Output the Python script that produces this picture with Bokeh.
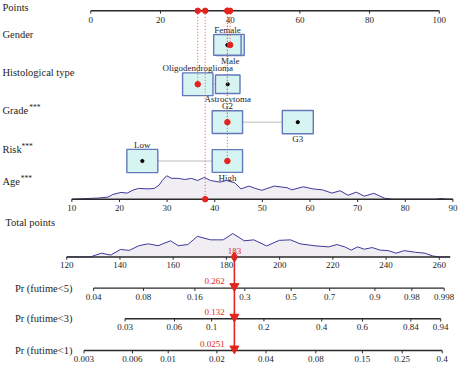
import math
from bokeh.plotting import figure
from bokeh.models import Range1d
from bokeh.core.properties import value
from bokeh.embed import file_html
from bokeh.resources import INLINE

# ---------------- data ----------------
points_ticks = [0, 20, 40, 60, 80, 100]

gender_levels = ["Female", "Male"]
gender_points = [39.2, 40.0]
gender_freq = [0.40, 0.42]

hist_levels = ["Oligodendroglioma", "Astrocytoma"]
hist_points = [30.7, 39.3]
hist_freq = [0.49, 0.32]

grade_levels = ["G2", "G3"]
grade_points = [39.2, 59.4]
grade_freq = [0.49, 0.51]

risk_levels = ["Low", "High"]
risk_points = [14.8, 39.2]
risk_freq = [0.51, 0.49]

age_ticks = [10, 20, 30, 40, 50, 60, 70, 80, 90]
age_range_points = [-5.43, 103.9]          # points at age 10 and age 90
age_dens_x = [10.0, 12.2, 15.6, 17.6, 18.6, 20.3, 21.6, 23.0, 24.0, 26.0, 27.3, 28.3,
              29.0, 29.9, 31.0, 32.4, 33.7, 35.1, 36.4, 37.8, 39.1, 41.1, 42.5, 44.2,
              45.5, 47.2, 48.5, 49.9, 52.5, 55.2, 56.2, 58.6, 60.6, 62.6, 64.6, 66.3,
              68.0, 69.7, 71.4, 73.4, 75.7, 77.4, 86.2, 87.5, 88.8, 90.0]
age_dens_y = [0.0, 0.02, 0.05, 0.09, 0.20, 0.29, 0.26, 0.40, 0.46, 0.44, 0.46, 0.60,
              0.80, 1.00, 0.89, 0.89, 0.84, 0.89, 0.80, 0.93, 0.80, 0.73, 0.80, 0.70,
              0.44, 0.56, 0.46, 0.38, 0.56, 0.49, 0.40, 0.53, 0.44, 0.40, 0.26, 0.36,
              0.17, 0.30, 0.13, 0.25, 0.04, 0.0, 0.0, 0.03, 0.0, 0.0]

total_ticks = [120, 140, 160, 180, 200, 220, 240, 260]
total_range_points = [-6.89, 100.0]        # points-scale position of 120 and 260
total_axis_end = 264
total_dens_x = [120.0, 128.9, 133.0, 136.6, 140.2, 143.5, 147.1, 150.7, 154.3, 159.0,
                161.9, 165.5, 169.1, 174.1, 177.0, 178.8, 182.4, 186.7, 190.3, 195.1,
                199.9, 204.1, 207.7, 213.7, 218.5, 221.5, 224.5, 226.9, 229.3, 231.8,
                234.8, 237.8, 240.8, 243.8, 246.8, 251.0, 254.6, 257.6, 260.0, 264.2]
total_dens_y = [0.0, 0.0, 0.16, 0.08, 0.32, 0.28, 0.48, 0.56, 0.48, 0.69,
                0.48, 0.53, 0.88, 0.73, 0.73, 0.73, 1.00, 0.69, 0.73, 0.47,
                0.71, 0.73, 0.56, 0.47, 0.43, 0.53, 0.43, 0.29, 0.43, 0.33,
                0.40, 0.29, 0.27, 0.16, 0.27, 0.20, 0.16, 0.04, 0.0, 0.0]

pr_labels = ["Pr (futime<5)", "Pr (futime<3)", "Pr (futime<1)"]
pr_ticks = [
    [0.04, 0.08, 0.16, 0.3, 0.5, 0.7, 0.9, 0.98, 0.998],
    [0.03, 0.06, 0.1, 0.2, 0.4, 0.6, 0.84, 0.94],
    [0.003, 0.006, 0.01, 0.02, 0.04, 0.08, 0.15, 0.25, 0.4],
]
# Cox model: log cumulative hazard = lh0 + beta * (total - 120)
pr_lh0 = [-3.584, -4.327, -6.055]
pr_beta = 0.03815

patient_choice = {"Gender": "Male", "Histological type": "Oligodendroglioma",
                  "Grade": "G2", "Risk": "High"}
patient_age = 38
patient_total = 183
patient_total_label = "183"
patient_pr_labels = ["0.262", "0.132", "0.0251"]

# ---------------- layout / style ----------------
FONT = "Liberation Serif"
RED = "#E0261F"
DOT_RED = "#E3231D"
AXIS_COL = "#2a2a2a"
BOX_FILL = "#D6F4F1"
BOX_LINE = "#6478BC"
DENS_FILL = "#F1EEF3"
DENS_LINE = "#3C3A9C"
TXT = "#1e1e1e"

PT0_PX = 92.0          # reference pixel of 0 points
PX_PER_PT = 3.63
BOX_AREA = 1570.0
BOX_ASPECT = 1.3
DENS_H = 25.0


def X(px):
    return (px - PT0_PX) / PX_PER_PT


def age_to_pts(a):
    return age_range_points[0] + (a - 10) * (age_range_points[1] - age_range_points[0]) / 80.0


def tot_to_pts(t):
    return total_range_points[0] + (t - 120) * (total_range_points[1] - total_range_points[0]) / 140.0


def prob_to_total(pv, k):
    return 120 + (math.log(-math.log(1 - pv)) - pr_lh0[k]) / pr_beta


def fmt(v):
    s = repr(v)
    return s[:-2] if s.endswith(".0") else s


p = figure(width=458, height=365, x_range=Range1d(X(-2), X(475)), y_range=Range1d(386, -4),
           output_backend="svg", toolbar_location=None, min_border=0,
           background_fill_color="white", border_fill_color="white")
p.axis.visible = False
p.grid.visible = False
p.outline_line_color = None


def text(xs, ys, labels, size, align="left", color=TXT, baseline="middle"):
    p.text(x=xs, y=ys, text=labels, text_font=value(FONT), text_font_size=size,
           text_align=align, text_baseline=baseline, text_color=color)


def axis(y, xs, labels, x0, x1, lab_dy=9.0):
    p.segment(x0=[x0], y0=[y], x1=[x1], y1=[y], line_color=AXIS_COL, line_width=1.4)
    p.segment(x0=xs, y0=[y] * len(xs), x1=xs, y1=[y + 3] * len(xs),
              line_color=AXIS_COL, line_width=1)
    text(xs, [y + lab_dy] * len(xs), labels, "9px", align="center")


# row labels
Y_POINTS = 7.0
rows = [("Points", 3.5, 0), ("Gender", 32.5, 0), ("Histological type", 73, 0),
        ("Grade", 113, 0), ("Risk", 155, 0), ("Age", 189, 0), ("Total points", 233, 3)]
for lab, yy, xx in rows:
    text([X(xx)], [yy], [lab], "10.5px")
stars = [(28, 110), (20, 152), (19, 186)]
for sx, sy in stars:
    text([X(sx)], [sy], ["***"], "7.5px")

# Points axis
axis(Y_POINTS, points_ticks, [fmt(t) for t in points_ticks], 0, 100, lab_dy=9.5)

# categorical rows
cat_rows = [
    ("Gender", 43.5, gender_levels, gender_points, gender_freq),
    ("Histological type", 85.5, hist_levels, hist_points, hist_freq),
    ("Grade", 126.0, grade_levels, grade_points, grade_freq),
    ("Risk", 167.5, risk_levels, risk_points, risk_freq),
]
chosen_pts = []
for name, yb, levels, pts, freq in cat_rows:
    p.segment(x0=[min(pts)], y0=[yb], x1=[max(pts)], y1=[yb], line_color="#BDBDBD", line_width=1)
    order = list(range(len(levels)))[::-1]
    for i in order:
        w = math.sqrt(BOX_AREA * freq[i] * BOX_ASPECT)
        h = w / BOX_ASPECT
        p.rect(x=[pts[i]], y=[yb], width=[w / PX_PER_PT], height=[h],
               fill_color=BOX_FILL, line_color=BOX_LINE, line_width=1.4)
        if i == 0:
            text([pts[i]], [yb - h / 2 - 5.0], [levels[i]], "9px", align="center")
        else:
            text([pts[i]], [yb + h / 2 + 5.5], [levels[i]], "9px", align="center")
    for i in range(len(levels)):
        if levels[i] == patient_choice[name]:
            chosen_pts.append((pts[i], yb))
        else:
            p.scatter(x=[pts[i]], y=[yb], size=3.2, color="black")

# Age row
Y_AGE = 208.3
ax = [age_to_pts(a) for a in age_dens_x]
p.varea(x=ax, y1=[Y_AGE] * len(ax), y2=[Y_AGE - d * DENS_H for d in age_dens_y], fill_color=DENS_FILL)
p.line(x=ax, y=[Y_AGE - d * DENS_H for d in age_dens_y], line_color=DENS_LINE, line_width=1)
axis(Y_AGE, [age_to_pts(a) for a in age_ticks], [fmt(a) for a in age_ticks],
     age_to_pts(10), age_to_pts(90), lab_dy=9)
chosen_pts.append((age_to_pts(patient_age), Y_AGE))

# red dotted guide lines and dots
for cx, cy in chosen_pts:
    p.segment(x0=[cx], y0=[Y_POINTS], x1=[cx], y1=[cy], line_color="#E8573F",
              line_width=1, line_dash="1 2")
for cx, cy in chosen_pts:
    p.scatter(x=[cx], y=[cy], size=5.5, color=DOT_RED)
    p.scatter(x=[cx], y=[Y_POINTS], size=5.5, color=DOT_RED)

# Total points row
Y_TOT = 270.0
tx = [tot_to_pts(t) for t in total_dens_x]
p.varea(x=tx, y1=[Y_TOT] * len(tx), y2=[Y_TOT - d * DENS_H for d in total_dens_y], fill_color=DENS_FILL)
p.line(x=tx, y=[Y_TOT - d * DENS_H for d in total_dens_y], line_color=DENS_LINE, line_width=1)
axis(Y_TOT, [tot_to_pts(t) for t in total_ticks], [fmt(t) for t in total_ticks],
     tot_to_pts(120), tot_to_pts(total_axis_end), lab_dy=9)

# Probability rows
Y_PR = [303.3, 336.0, 370.0]
for k in range(3):
    xs = [tot_to_pts(prob_to_total(v, k)) for v in pr_ticks[k]]
    axis(Y_PR[k], xs, [fmt(v) for v in pr_ticks[k]], xs[0], xs[-1], lab_dy=9)
    text([X(13)], [Y_PR[k]], [pr_labels[k]], "10.5px")

# patient total marker and projection
mx = tot_to_pts(patient_total)
p.segment(x0=[mx], y0=[Y_TOT], x1=[mx], y1=[Y_PR[-1] - 2], line_color=RED, line_width=1.6)
p.scatter(x=[mx], y=[Y_TOT], marker="diamond", size=10, color=RED)
text([mx], [Y_TOT - 6], [patient_total_label], "9px", align="center", color=RED)
for k in range(3):
    p.scatter(x=[mx], y=[Y_PR[k] - 2], marker="inverted_triangle", size=9, color=RED)
    text([mx - 10 / PX_PER_PT], [Y_PR[k] - 7.5], [patient_pr_labels[k]], "9px",
         align="right", color=RED)

open("out.html", "w").write(file_html(p, INLINE))
